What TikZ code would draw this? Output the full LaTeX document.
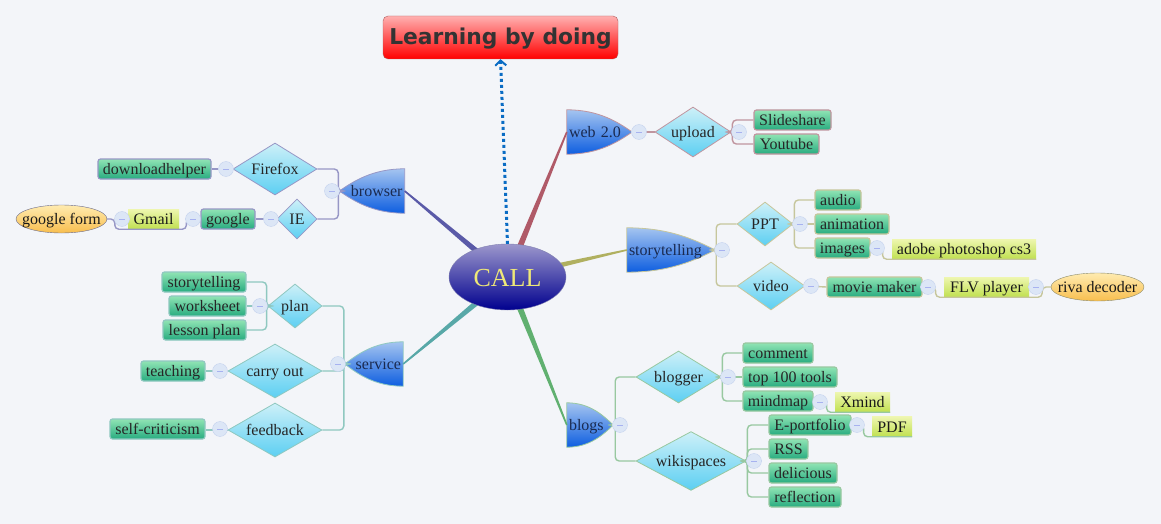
\documentclass[tikz,border=0pt]{standalone}
\usepackage{fontspec}
\setmainfont{Liberation Serif}
\newfontfamily\titlefont{DejaVu Sans}
\usepackage{xcolor}
\usetikzlibrary{arrows.meta,shapes.geometric,calc,backgrounds}

\definecolor{pagebg}{HTML}{F3F5F9}
\definecolor{browsercol}{HTML}{9797C6}
\definecolor{webcol}{HTML}{C0959F}
\definecolor{storycol}{HTML}{C6C69C}
\definecolor{servicecol}{HTML}{8FC8C0}
\definecolor{blogcol}{HTML}{98C8A0}
\definecolor{browserstem}{HTML}{5A5AA8}
\definecolor{webstem}{HTML}{B05A68}
\definecolor{storystem}{HTML}{B0B060}
\definecolor{servicestem}{HTML}{58A8A8}
\definecolor{blogstem}{HTML}{60B070}
\definecolor{CentralTop}{HTML}{9C97CC}
\definecolor{CentralBot}{HTML}{00008E}
\definecolor{CentralEdge}{HTML}{8080B0}
\definecolor{CentralText}{HTML}{EFE878}
\definecolor{GoalTop}{HTML}{FFB0B0}
\definecolor{GoalEdge}{HTML}{B06060}
\definecolor{GoalLine}{HTML}{0A6CC4}
\definecolor{TopicText}{HTML}{1A2A50}
\definecolor{LobeTop}{HTML}{A4C4F0}
\definecolor{LobeBot}{HTML}{0E5EE0}
\definecolor{ChoiceTop}{HTML}{CDF0F8}
\definecolor{ChoiceBot}{HTML}{5CCFF2}
\definecolor{LeafTop}{HTML}{90E4B4}
\definecolor{LeafBot}{HTML}{28AC80}
\definecolor{ToolTop}{HTML}{EEF6B0}
\definecolor{ToolBot}{HTML}{C0E050}
\definecolor{OvalTop}{HTML}{FFEBB0}
\definecolor{OvalBot}{HTML}{F8BE4E}
\definecolor{FoldCol}{HTML}{DCE6F6}
\definecolor{FoldEdge}{HTML}{C4D2EE}
\colorlet{trunk}{browsercol}

% tapered branch from the centre to a topic: centre node, topic anchor, colour
\newcommand{\branch}[3]{\fill[#3] ($(#1)!3.5pt!90:(#2)$) -- ($(#2)!.8pt!-90:(#1)$) -- ($(#2)!.8pt!90:(#1)$) -- ($(#1)!3.5pt!-90:(#2)$) -- cycle;}
% topic outline: node, flat side, tip side
\newcommand{\lobe}[3]{\draw[lobefill] (#1.north #2) .. controls ($(#1.north #2)!.5!(#1.north #3)$) and ($(#1.#3)!.42!(#1.north)$) .. (#1.#3)
    .. controls ($(#1.#3)!.42!(#1.south)$) and ($(#1.south #2)!.5!(#1.south #3)$) .. (#1.south #2) -- cycle;}

\begin{document}
\begin{tikzpicture}[
    x=1pt, y=-1pt,
    every node/.style={font=\fontsize{16}{18}\selectfont, text height=13pt, text depth=2pt, inner sep=0pt},
    central/.style={ellipse, minimum width=117, minimum height=66, top color=CentralTop, bottom color=CentralBot, draw=CentralEdge, text=CentralText, font=\fontsize{26}{30}\selectfont, text height=18pt, text depth=0pt},
    goal/.style={rectangle, rounded corners=5, minimum width=235, minimum height=43, top color=GoalTop, bottom color=red, draw=GoalEdge, text=black!80, font=\titlefont\bfseries\fontsize{21.8}{24}\selectfont, text height=17pt, text depth=2pt},
    topic/.style={rectangle, minimum width=#1+4, text width=#1, minimum height=44, inner xsep=2, text=TopicText},
    lobefill/.style={top color=LobeTop, bottom color=LobeBot, draw=trunk, thick},
    choice/.style={diamond, shape aspect=1.6, top color=ChoiceTop, bottom color=ChoiceBot, draw=trunk, thick, text=black!85},
    leaf/.style={rectangle, rounded corners=2.5, minimum height=20, top color=LeafTop, bottom color=LeafBot, draw=trunk, line width=1.2pt, text=black!85},
    tool/.style={rectangle, minimum height=20, top color=ToolTop, bottom color=ToolBot, text=black!90},
    oval/.style={ellipse, minimum height=28, inner xsep=-10pt, top color=OvalTop, bottom color=OvalBot, draw=trunk!70!black, text=black!90},
    link/.style={draw=trunk, line width=1.4pt, rounded corners=4},
    fold/.style={circle, minimum size=9, top color=FoldCol, bottom color=FoldCol, draw=FoldEdge, path picture={\draw[FoldEdge!85!blue, thin] ($(path picture bounding box.west)!.3!(path picture bounding box.east)$) -- ($(path picture bounding box.west)!.7!(path picture bounding box.east)$);}},
    goalarrow/.style={draw=GoalLine, line width=3pt, dash pattern=on 3pt off 3pt, -{Straight Barb[length=5pt, width=11pt, line width=2pt]}},
    ]

    \useasboundingbox (0,0) rectangle (1161,524);
    \begin{pgfonlayer}{background}
        \fill[pagebg] (0,0) rectangle (1161,524);
    \end{pgfonlayer}

    % Centre and goal
    \node[central] (call) at (507.5,277) {CALL};
    \node[goal] (goal) at (500.5,37.5) {Learning by doing};
    \draw[goalarrow] (call.north) -- (goal.south);

    % Browser branch
    \colorlet{trunk}{browsercol}
    \node[topic=61, align=right] (browser) at (372,191) {browser};
    \begin{pgfonlayer}{background}
        \lobe{browser}{east}{west}
    \end{pgfonlayer}
    \node[choice, minimum width=84, minimum height=52] (firefox) at (275,169) {Firefox};
    \node[choice, minimum width=40, minimum height=40] (ie) at (297,219) {IE};
    \node[leaf, minimum width=113] (downloadhelper) at (154.5,169) {downloadhelper};
    \node[leaf, minimum width=54] (google) at (228,219) {google};
    \node[tool, minimum width=51] (gmail) at (153.5,219) {Gmail};
    \node[oval, minimum width=91] (googleform) at (61.5,219) {google form};
    \draw[link] (browser.west) -- ++(-1,0) |- (firefox.east);
    \draw[link] (browser.west) -- ++(-1,0) |- (ie.east);
    \draw[link] (firefox.west) -- (downloadhelper.east);
    \draw[link] (ie.west) -- (google.east);
    \draw[link] (google.west) -- ++(-14,0) |- (gmail.south west) -- ++(-13,0) |- (googleform.east);

    % Service branch
    \colorlet{trunk}{servicecol}
    \node[topic=54, align=right] (service) at (374,364) {service};
    \begin{pgfonlayer}{background}
        \lobe{service}{east}{west}
    \end{pgfonlayer}
    \node[choice, minimum width=54, minimum height=44] (plan) at (295,306) {plan};
    \node[choice, minimum width=94, minimum height=54] (carryout) at (275,371) {carry out};
    \node[choice, minimum width=94, minimum height=54] (feedback) at (275,430) {feedback};
    \node[leaf, minimum width=84] (storyleaf) at (204,282) {storytelling};
    \node[leaf, minimum width=77] (worksheet) at (207.5,306) {worksheet};
    \node[leaf, minimum width=83] (lessonplan) at (204.5,330) {lesson plan};
    \node[leaf, minimum width=64] (teaching) at (173,371) {teaching};
    \node[leaf, minimum width=95] (selfcriticism) at (157.5,429) {self-criticism};
    \draw[link] (service.west) -- ++(-1,0) |- (plan.east);
    \draw[link] (service.west) -- ++(-1,0) |- (carryout.east);
    \draw[link] (service.west) -- ++(-1,0) |- (feedback.east);
    \draw[link] (plan.west) -- ++(-1,0) |- (storyleaf.east);
    \draw[link] (plan.west) -- (worksheet.east);
    \draw[link] (plan.west) -- ++(-1,0) |- (lessonplan.east);
    \draw[link] (carryout.west) -- (teaching.east);
    \draw[link] (feedback.west) -- (selfcriticism.east |- feedback.west);

    % Web 2.0 branch
    \colorlet{trunk}{webcol}
    \node[topic=61, align=left] (web) at (599.5,132) {web 2.0};
    \begin{pgfonlayer}{background}
        \lobe{web}{west}{east}
    \end{pgfonlayer}
    \node[choice, minimum width=76, minimum height=50] (upload) at (693,132) {upload};
    \node[leaf, minimum width=77] (slideshare) at (792.5,120) {Slideshare};
    \node[leaf, minimum width=65] (youtube) at (786.5,144) {Youtube};
    \draw[link] (web.east) -- (upload.west);
    \draw[link] (upload.east) -- ++(1,0) |- (slideshare.west);
    \draw[link] (upload.east) -- ++(1,0) |- (youtube.west);

    % Storytelling branch
    \colorlet{trunk}{storycol}
    \node[topic=84, align=left] (storytelling) at (671,250) {storytelling};
    \begin{pgfonlayer}{background}
        \lobe{storytelling}{west}{east}
    \end{pgfonlayer}
    \node[choice, minimum width=56, minimum height=44] (ppt) at (765,224) {PPT};
    \node[choice, minimum width=68, minimum height=48] (video) at (771,286) {video};
    \node[leaf, minimum width=46] (audio) at (838,200) {audio};
    \node[leaf, minimum width=74] (animation) at (852,224) {animation};
    \node[leaf, minimum width=55] (images) at (842.5,248) {images};
    \node[tool, minimum width=144] (adobe) at (964,249) {adobe photoshop cs3};
    \node[leaf, minimum width=95] (moviemaker) at (874.5,287) {movie maker};
    \node[tool, minimum width=85] (flvplayer) at (986.5,287) {FLV player};
    \node[oval, minimum width=93] (riva) at (1097.5,287) {riva decoder};
    \draw[link] (storytelling.east) -- ++(1,0) |- (ppt.west);
    \draw[link] (storytelling.east) -- ++(1,0) |- (video.west);
    \draw[link] (ppt.east) -- ++(1,0) |- (audio.west);
    \draw[link] (ppt.east) -- (animation.west);
    \draw[link] (ppt.east) -- ++(1,0) |- (images.west);
    \draw[link] (images.east) -- ++(12,0) |- (adobe.south east);
    \draw[link] (video.east) -- (moviemaker.west);
    \draw[link] (moviemaker.east) -- ++(13,0) |- (flvplayer.south east) -- ++(13,0) |- (riva.west);

    % Blogs branch
    \colorlet{trunk}{blogcol}
    \node[topic=42, align=left] (blogs) at (590,425) {blogs};
    \begin{pgfonlayer}{background}
        \lobe{blogs}{west}{east}
    \end{pgfonlayer}
    \node[choice, minimum width=85, minimum height=52] (blogger) at (678.5,377) {blogger};
    \node[choice, minimum width=110, minimum height=58] (wikispaces) at (691,461) {wikispaces};
    \node[leaf, minimum width=70] (comment) at (778,353) {comment};
    \node[leaf, minimum width=94] (toptools) at (790,377) {top 100 tools};
    \node[leaf, minimum width=70] (mindmap) at (778,401) {mindmap};
    \node[tool, minimum width=55] (xmind) at (862.5,402) {Xmind};
    \node[leaf, minimum width=82] (eportfolio) at (810,425) {E-portfolio};
    \node[tool, minimum width=40] (pdf) at (892,426.5) {PDF};
    \node[leaf, minimum width=39] (rss) at (788.5,449) {RSS};
    \node[leaf, minimum width=68] (delicious) at (803,473) {delicious};
    \node[leaf, minimum width=72] (reflection) at (805,497) {reflection};
    \draw[link] (blogs.east) -- ++(2,0) |- (blogger.west);
    \draw[link] (blogs.east) -- ++(2,0) |- (wikispaces.west);
    \draw[link] (blogger.east) -- ++(1,0) |- (comment.west);
    \draw[link] (blogger.east) -- (toptools.west);
    \draw[link] (blogger.east) -- ++(1,0) |- (mindmap.west);
    \draw[link] (mindmap.east) -- ++(13,0) |- (xmind.south east);
    \draw[link] (wikispaces.east) -- ++(1,0) |- (eportfolio.west);
    \draw[link] (wikispaces.east) -- ++(1,0) |- (rss.west);
    \draw[link] (wikispaces.east) -- ++(1,0) |- (delicious.west);
    \draw[link] (wikispaces.east) -- ++(1,0) |- (reflection.west);
    \draw[link] (eportfolio.east) -- ++(12,0) |- (pdf.south east);

    % Tapered branches go under the centre
    \begin{pgfonlayer}{background}
        \branch{call.center}{browser.east}{browserstem}
        \branch{call.center}{service.east}{servicestem}
        \branch{call.center}{web.west}{webstem}
        \branch{call.center}{storytelling.west}{storystem}
        \branch{call.center}{blogs.west}{blogstem}
    \end{pgfonlayer}

    % Collapse markers
    \foreach \fx/\fy [count=\i] in {226/169, 332/191, 122/219, 193/219, 271/219,
        260/306, 338/364, 220/371, 220/429,
        639/132, 739/132, 722/250, 800/224, 877/248, 811/286, 928/287, 1036/287,
        620/425, 728/377, 820/402, 857/425, 754/461}
        \node[fold] (fold\i) at (\fx,\fy) {};
\end{tikzpicture}
\end{document}
